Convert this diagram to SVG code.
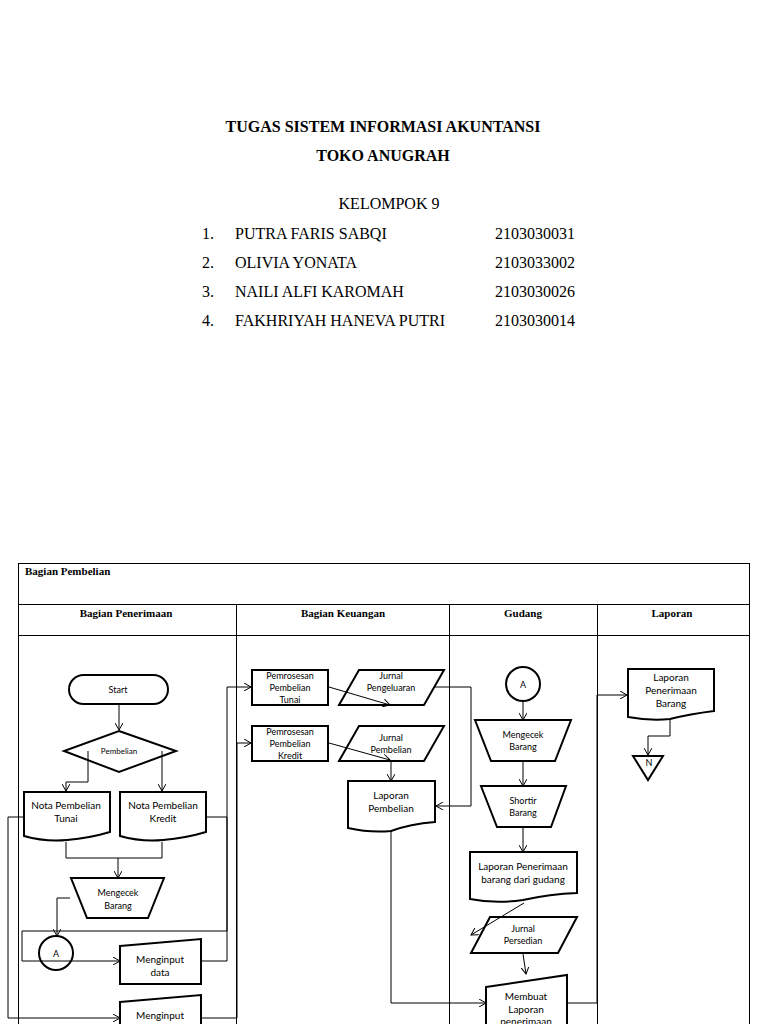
<svg xmlns="http://www.w3.org/2000/svg" width="768" height="1024" viewBox="0 0 768 1024">
<style>
.t{font-family:"Liberation Serif",serif;font-size:16px;fill:#000}
.b{font-weight:bold}
.h{font-family:"Liberation Serif",serif;font-size:11px;font-weight:bold}
.s{fill:#fff;stroke:#000;stroke-width:2}
.l{fill:none;stroke:#000;stroke-width:1}
.n{font-family:Lato,"Open Sans",sans-serif;font-size:10px;text-anchor:middle}
.n9{font-size:9px}
.n8{font-size:8px}
</style>
<defs><marker id="a" markerWidth="8" markerHeight="8" refX="7" refY="4" orient="auto" markerUnits="userSpaceOnUse"><path d="M0,0L7,4L0,8" fill="none" stroke="#000"/></marker></defs>
<rect width="768" height="1024" fill="#fff"/>
<text class="t b" x="383" y="132" text-anchor="middle">TUGAS SISTEM INFORMASI AKUNTANSI</text>
<text class="t b" x="383" y="161" text-anchor="middle">TOKO ANUGRAH</text>
<text class="t" x="389" y="209" text-anchor="middle">KELOMPOK 9</text>
<g class="t"><text x="202" y="239">1.</text><text x="235" y="239">PUTRA FARIS SABQI</text><text x="495" y="239">2103030031</text>
<text x="202" y="268">2.</text><text x="235" y="268">OLIVIA YONATA</text><text x="495" y="268">2103033002</text>
<text x="202" y="297">3.</text><text x="235" y="297">NAILI ALFI KAROMAH</text><text x="495" y="297">2103030026</text>
<text x="202" y="326">4.</text><text x="235" y="326">FAKHRIYAH HANEVA PUTRI</text><text x="495" y="326">2103030014</text></g>
<g id="pool" fill="none" stroke="#000">
<rect x="18.5" y="563.5" width="731" height="470"/>
<line x1="18" y1="604.5" x2="750" y2="604.5"/><line x1="18" y1="635.5" x2="750" y2="635.5"/>
<line x1="236.5" y1="604" x2="236.5" y2="1024"/><line x1="449.5" y1="604" x2="449.5" y2="1024"/><line x1="597.5" y1="604" x2="597.5" y2="1024"/>
</g>
<text class="h" x="25" y="575">Bagian Pembelian</text>
<g class="h" text-anchor="middle"><text x="126" y="617">Bagian Penerimaan</text><text x="343" y="617">Bagian Keuangan</text><text x="523" y="617">Gudang</text><text x="672" y="617">Laporan</text></g>
<g id="start"><rect class="s" x="69" y="675" width="99" height="29" rx="14.5"/><text class="n n9" x="118" y="693">Start</text></g>
<g id="pembelian"><polygon class="s" points="119,731 176,751 119,772 64,751"/><text class="n n8" x="119" y="754">Pembelian</text></g>
<g id="notaTunai"><path class="s" d="M24,792H110V832Q90,838 67,840Q45,842 24,836Z"/><text class="n" x="66" y="809">Nota Pembelian</text><text class="n" x="66" y="822">Tunai</text></g>
<g id="notaKredit"><path class="s" d="M120,792H206V832Q186,838 163,840Q141,842 120,836Z"/><text class="n" x="163" y="809">Nota Pembelian</text><text class="n" x="163" y="822">Kredit</text></g>
<g id="mengecek1"><polygon class="s" points="71,878 164,878 148,918 87,918"/><text class="n n9" x="118" y="896">Mengecek</text><text class="n n9" x="118" y="909">Barang</text></g>
<g id="a1"><circle class="s" cx="56" cy="953" r="17"/><text class="n n9" x="56" y="957">A</text></g>
<g id="menginputData"><polygon class="s" points="120,946 201,939 201,984 120,984"/><text class="n" x="160" y="963">Menginput</text><text class="n" x="160" y="976">data</text></g>
<g id="menginput2"><polygon class="s" points="120,1002 201,995 201,1030 120,1030"/><text class="n" x="160" y="1019">Menginput</text></g>
<g id="pTunai"><rect class="s" x="252" y="670" width="76" height="35"/><text class="n n9" x="290" y="679">Pemrosesan</text><text class="n n9" x="290" y="691">Pembelian</text><text class="n n9" x="290" y="703">Tunai</text></g>
<g id="pKredit"><rect class="s" x="252" y="726" width="76" height="35"/><text class="n n9" x="290" y="735">Pemrosesan</text><text class="n n9" x="290" y="747">Pembelian</text><text class="n n9" x="290" y="759">Kredit</text></g>
<g id="jPengeluaran"><polygon class="s" points="359,670 444,670 424,705 339,705"/><text class="n n9" x="391" y="679">Jurnal</text><text class="n n9" x="391" y="691">Pengeluaran</text></g>
<g id="jPembelian"><polygon class="s" points="359,726 444,726 424,761 339,761"/><text class="n n9" x="391" y="741">Jurnal</text><text class="n n9" x="391" y="753">Pembelian</text></g>
<g id="lapPembelian"><path class="s" d="M348,781H435V822Q410,824 391,831Q370,833 348,828Z"/><text class="n" x="391" y="799">Laporan</text><text class="n" x="391" y="812">Pembelian</text></g>
<g id="a2"><circle class="s" cx="523" cy="684" r="17"/><text class="n n9" x="523" y="688">A</text></g>
<g id="mengecek2"><polygon class="s" points="475,720 571,720 555,761 491,761"/><text class="n n9" x="523" y="738">Mengecek</text><text class="n n9" x="523" y="750">Barang</text></g>
<g id="shortir"><polygon class="s" points="481,786 566,786 551,827 497,827"/><text class="n n9" x="523" y="804">Shortir</text><text class="n n9" x="523" y="816">Barang</text></g>
<g id="lapGudang"><path class="s" d="M470,852H577V893Q550,894 523,900Q495,904 470,899Z"/><text class="n" x="523" y="870">Laporan Penerimaan</text><text class="n" x="523" y="883">barang dari gudang</text></g>
<g id="jPersedian"><polygon class="s" points="490,917 577,917 558,953 471,953"/><text class="n n9" x="523" y="932">Jurnal</text><text class="n n9" x="523" y="944">Persedian</text></g>
<g id="membuat"><polygon class="s" points="486,987 567,975 567,1030 486,1030"/><text class="n" x="526" y="1000">Membuat</text><text class="n" x="526" y="1013">Laporan</text><text class="n" x="526" y="1025">penerimaan</text></g>
<g id="lapPenerimaan"><path class="s" d="M628,669H714V711Q690,714 670,719Q650,721 628,717Z"/><text class="n" x="671" y="681">Laporan</text><text class="n" x="671" y="694">Penerimaan</text><text class="n" x="671" y="707">Barang</text></g>
<g id="n"><polygon class="s" points="633,756 663,756 648,780"/><text class="n n9" x="649" y="766">N</text></g>
<g id="connectors" class="l">
<path d="M119,704V730" marker-end="url(#a)"/>
<path d="M88,751V782H66V791" marker-end="url(#a)"/>
<path d="M162,751V791" marker-end="url(#a)"/>
<path d="M66,842V858H162V842M118,858V878" marker-end="url(#a)"/>
<path d="M70,898H57V936" marker-end="url(#a)"/>
<path d="M207,817H227V931H22V961H120" marker-end="url(#a)"/>
<path d="M201,961H227V687H251" marker-end="url(#a)"/>
<path d="M23,817H8V1018H120" marker-end="url(#a)"/>
<path d="M201,1018H237V743H251" marker-end="url(#a)"/>
<path d="M329,687L390,705" marker-end="url(#a)"/>
<path d="M329,743L390,760" marker-end="url(#a)"/>
<path d="M391,762V781" marker-end="url(#a)"/>
<path d="M434,687H471V806H436" marker-end="url(#a)"/>
<path d="M391,832V1003H486" marker-end="url(#a)"/>
<path d="M523,701V720" marker-end="url(#a)"/>
<path d="M523,762V786" marker-end="url(#a)"/>
<path d="M523,828V852" marker-end="url(#a)"/>
<path d="M524,903L471,935" marker-end="url(#a)"/>
<path d="M523,954L526,974" marker-end="url(#a)"/>
<path d="M568,1003H597V695H627" marker-end="url(#a)"/>
<path d="M670,720V736H648V755" marker-end="url(#a)"/>
</g>
</svg>
